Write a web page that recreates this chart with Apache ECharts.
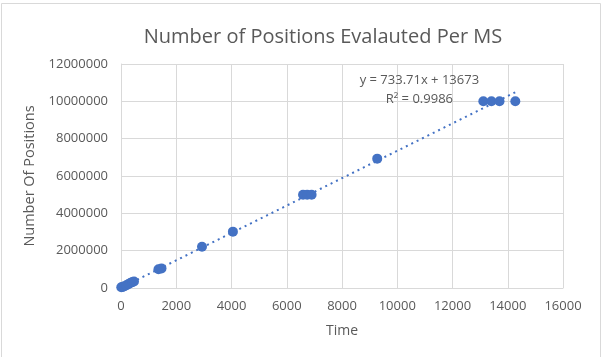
<!DOCTYPE html>
<html><head><meta charset="utf-8">
<script src="https://cdn.jsdelivr.net/npm/echarts@6/dist/echarts.min.js"></script>
<style>html,body{margin:0;padding:0;background:#fff}#c{width:605px;height:357px}</style>
</head><body><div id="c"></div>
<script>
const timeValues = [10, 60, 120, 200, 280, 350, 420, 470, 1357, 1466, 2932, 4051, 6590, 6740, 6900, 9275, 13116, 13409, 13702, 14274];
const positionValues = [40000, 60000, 100000, 150000, 220000, 280000, 320000, 350000, 1000000, 1050000, 2210000, 3020000, 5000000, 5000000, 5000000, 6930000, 10000000, 10000000, 10000000, 10000000];
const trendX = [0, 14274];
const trendY = [13673, 10486375];
const trendLabels = ['y = 733.71x + 13673', 'R² = 0.9986'];
const titleText = 'Number of Positions Evalauted Per MS';
const xName = 'Time';
const yName = 'Number Of Positions';

const FONT = 'Open Sans';
const TXT = '#595959';
const GRID = '#d9d9d9';
const BLUE = '#4472C4';

const chart = echarts.init(document.getElementById('c'), null, {renderer: 'canvas'});
chart.setOption({
  animation: false,
  backgroundColor: '#fff',
  title: {
    text: titleText, left: 318, top: 22, textAlign: 'center',
    textStyle: {fontFamily: FONT, fontSize: 20, fontWeight: 'normal', color: TXT}
  },
  grid: {left: 121, right: 42, top: 64, bottom: 69},
  xAxis: {
    type: 'value', min: 0, max: 16000, interval: 2000,
    name: xName, nameLocation: 'middle', nameGap: 36,
    nameTextStyle: {fontFamily: FONT, fontSize: 14, color: TXT},
    axisLine: {show: true, lineStyle: {color: GRID}},
    axisTick: {show: false},
    axisLabel: {fontFamily: FONT, fontSize: 13, color: TXT, margin: 12, formatter: v => String(v)},
    splitLine: {show: true, lineStyle: {color: GRID}}
  },
  yAxis: {
    type: 'value', min: 0, max: 12000000, interval: 2000000,
    name: yName, nameLocation: 'middle', nameGap: 78, nameRotate: 90,
    nameTextStyle: {fontFamily: FONT, fontSize: 14.5, color: TXT},
    axisLine: {show: true, lineStyle: {color: GRID}},
    axisTick: {show: false},
    axisLabel: {fontFamily: FONT, fontSize: 13, color: TXT, margin: 13, formatter: v => String(v)},
    splitLine: {show: true, lineStyle: {color: GRID}}
  },
  graphic: [{
    type: 'rect', shape: {x: 1.5, y: 3.5, width: 599, height: 360},
    style: {fill: 'none', stroke: GRID, lineWidth: 1}, silent: true, z: -1
  }],
  series: [
    {
      type: 'line', data: trendX.map((x, i) => [x, trendY[i]]),
      symbol: 'none', lineStyle: {color: BLUE, width: 2, type: [2, 4]}, z: 1,
      markPoint: {
        symbol: 'rect', symbolSize: 0,
        data: [
          {coord: [10800, 11150000], value: trendLabels[0], label: {show: true, formatter: trendLabels[0], fontFamily: FONT, fontSize: 13, color: TXT}},
          {coord: [10800, 10130000], value: trendLabels[1], label: {show: true, formatter: trendLabels[1], fontFamily: FONT, fontSize: 13, color: TXT}}
        ]
      }
    },
    {
      type: 'scatter', data: timeValues.map((x, i) => [x, positionValues[i]]),
      symbol: 'circle', symbolSize: 10, itemStyle: {color: BLUE, opacity: 1}, z: 2
    }
  ]
});
</script></body></html>
